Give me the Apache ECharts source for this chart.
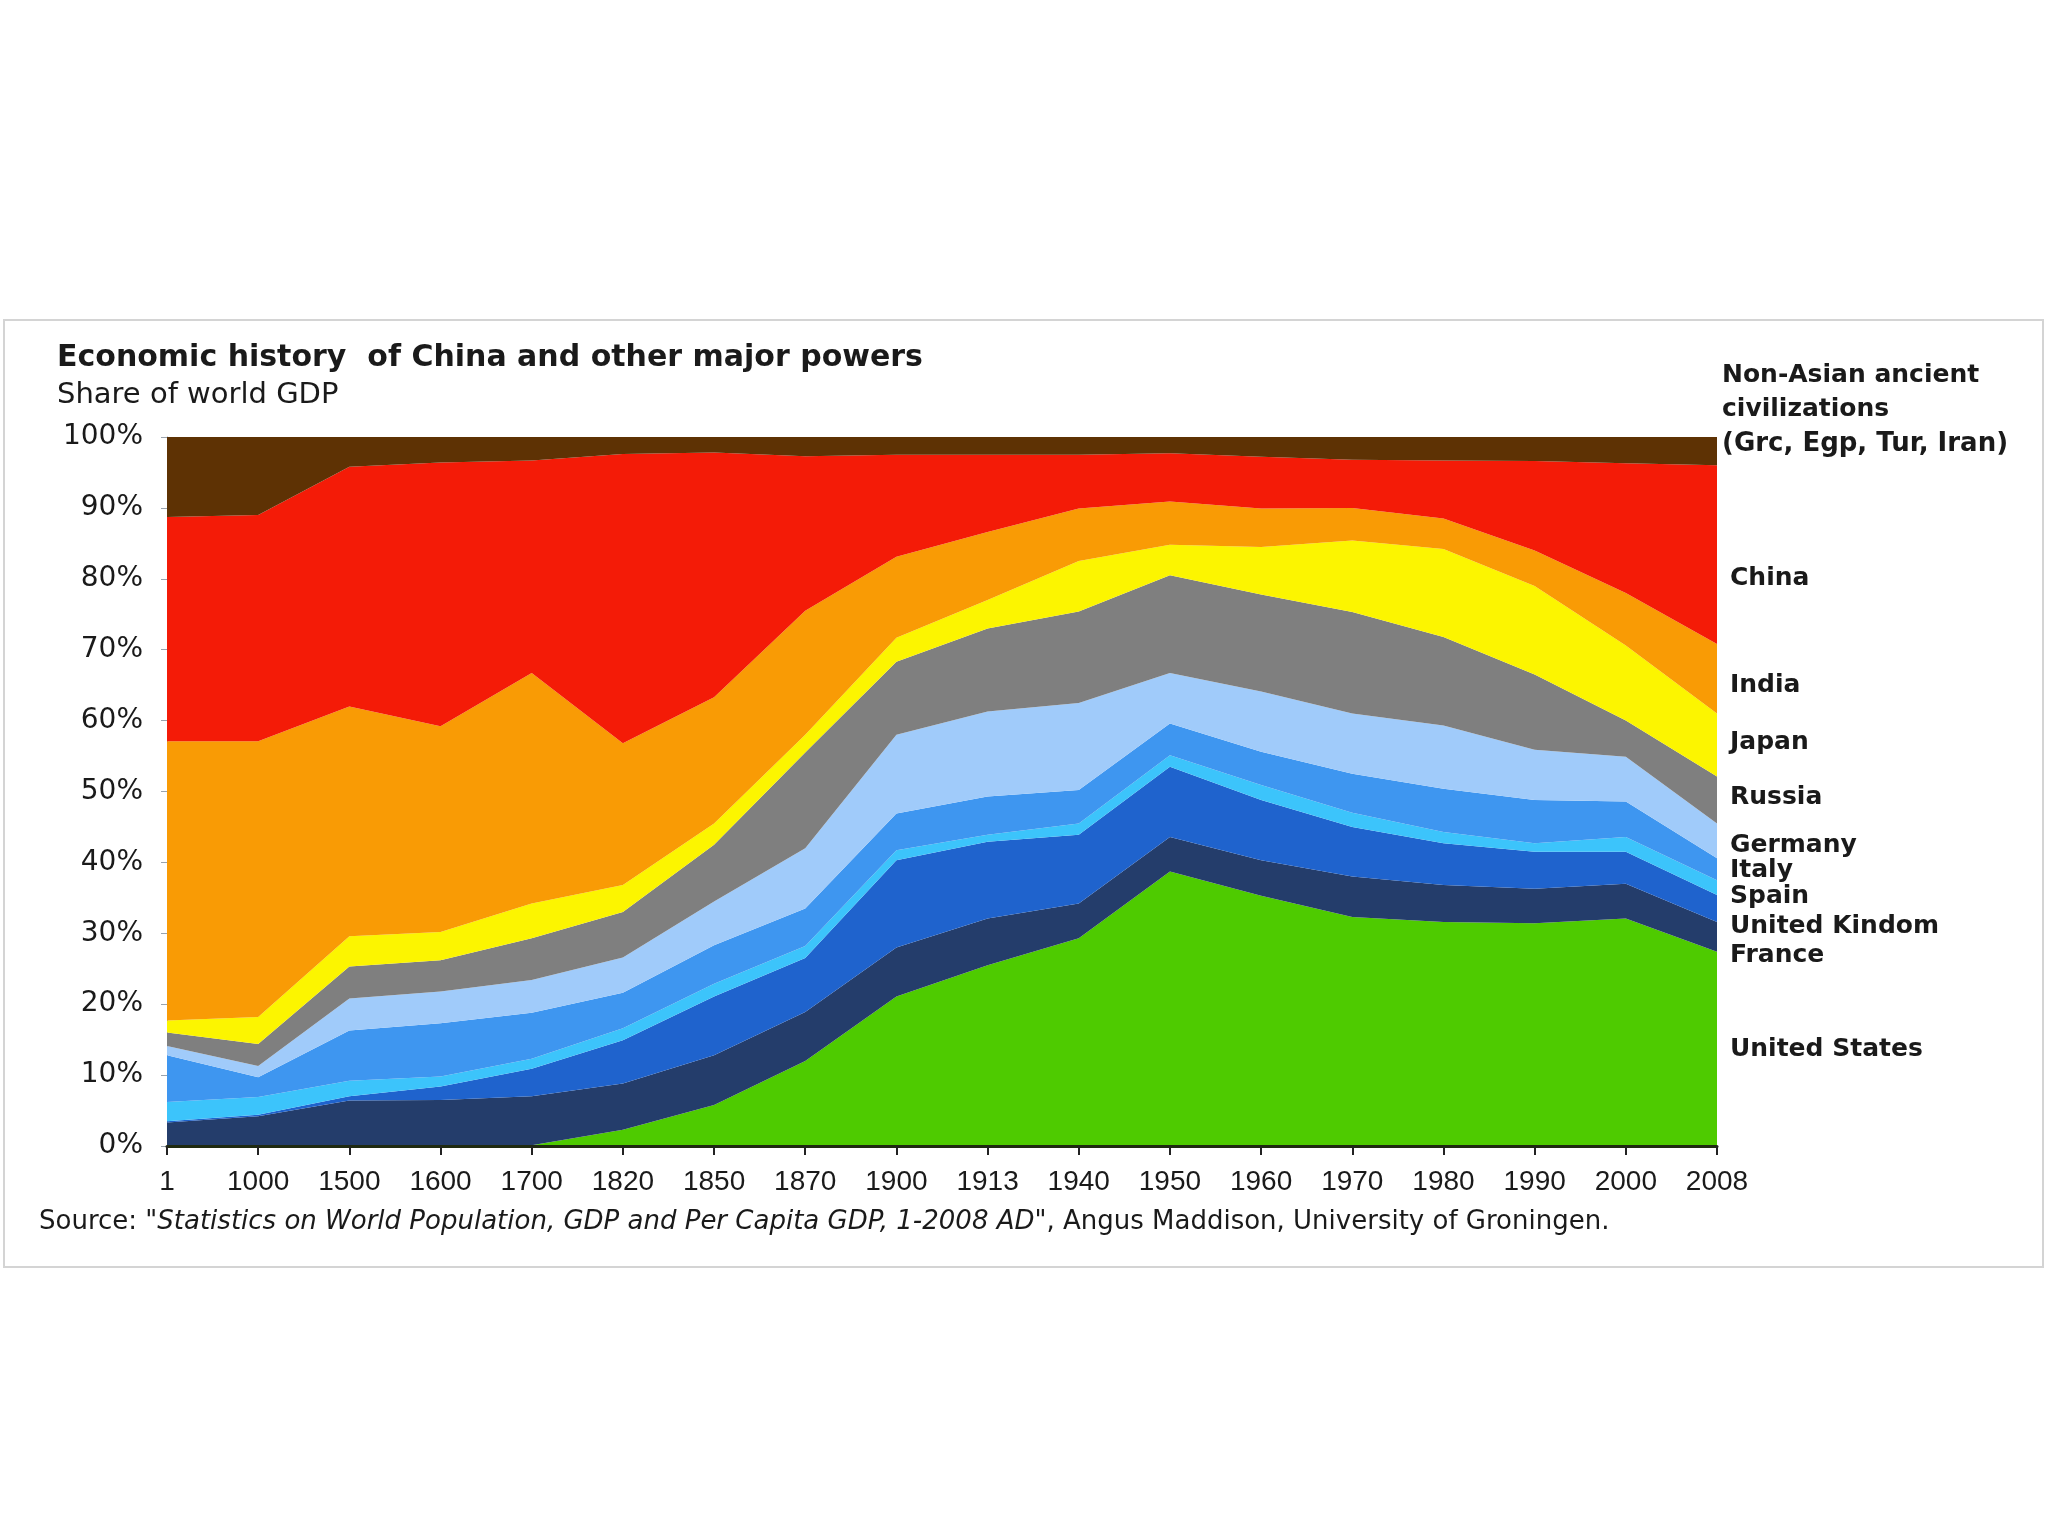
<!DOCTYPE html>
<html>
<head>
<meta charset="utf-8">
<style>
  html, body { margin: 0; padding: 0; background: #ffffff; }
  #chart { width: 2048px; height: 1536px; }
</style>
<script src="https://cdn.jsdelivr.net/npm/echarts@6/dist/echarts.min.js"></script>
</head>
<body>
<div id="chart"></div>
<script>
// ---- Data (share of world GDP, %) ----
const years = ['1','1000','1500','1600','1700','1820','1850','1870','1900','1913','1940','1950','1960','1970','1980','1990','2000','2008'];

const unitedStates = [0, 0, 0, 0, 0.1, 2.3, 5.8, 12.0, 21.1, 25.5, 29.3, 38.7, 35.3, 32.3, 31.6, 31.4, 32.1, 27.4];
const france       = [3.3, 4.2, 6.4, 6.5, 6.9, 6.5, 7.0, 6.9, 6.9, 6.6, 4.9, 4.9, 5.0, 5.7, 5.2, 4.9, 4.9, 4.2];
const unitedKingdom= [0.2, 0.2, 0.6, 1.9, 3.9, 6.1, 8.3, 7.6, 12.3, 10.8, 9.7, 9.9, 8.5, 7.0, 5.9, 5.2, 4.5, 3.8];
const spain        = [2.7, 2.5, 2.2, 1.4, 1.4, 1.7, 1.8, 1.7, 1.4, 1.0, 1.6, 1.6, 2.1, 2.0, 1.6, 1.2, 2.1, 2.1];
const italy        = [6.6, 2.8, 7.1, 7.5, 6.5, 5.0, 5.4, 5.3, 5.2, 5.4, 4.7, 4.5, 4.7, 5.5, 6.1, 6.1, 5.0, 3.1];
const germany      = [1.3, 1.6, 4.5, 4.5, 4.6, 5.0, 6.2, 8.5, 11.1, 12.0, 12.3, 7.1, 8.5, 8.5, 8.9, 7.1, 6.3, 4.9];
const russia       = [1.9, 3.1, 4.5, 4.4, 5.9, 6.4, 8.0, 13.5, 10.3, 11.7, 12.9, 13.8, 13.7, 14.3, 12.5, 10.6, 5.1, 6.6];
const japan        = [1.7, 3.8, 4.3, 4.0, 4.9, 3.8, 3.0, 2.5, 3.4, 4.0, 7.1, 4.3, 6.7, 10.1, 12.4, 12.5, 10.6, 8.9];
const india        = [39.4, 38.9, 32.4, 29.0, 32.5, 20.0, 17.8, 17.5, 11.4, 9.6, 7.4, 6.1, 5.4, 4.6, 4.3, 5.0, 7.4, 9.8];
const china        = [31.6, 31.9, 33.8, 37.2, 30.0, 40.8, 34.5, 21.8, 14.4, 10.9, 7.6, 6.8, 7.3, 6.8, 8.2, 12.6, 18.3, 25.2];
const ancient      = [11.3, 11.0, 4.2, 3.6, 3.3, 2.4, 2.2, 2.7, 2.5, 2.5, 2.5, 2.3, 2.8, 3.2, 3.3, 3.4, 3.7, 4.0];

const yTicks = [0, 10, 20, 30, 40, 50, 60, 70, 80, 90, 100];

const seriesNames = ['United States', 'France', 'United Kindom', 'Spain', 'Italy', 'Germany', 'Russia', 'Japan', 'India', 'China', 'Non-Asian ancient civilizations (Grc, Egp, Tur, Iran)'];
const seriesData  = [unitedStates, france, unitedKingdom, spain, italy, germany, russia, japan, india, china, ancient];
const seriesColors = ['#4ecb00', '#243d6b', '#1f63cd', '#3cc4fb', '#3e96f0', '#a0cbfa', '#7f7f7f', '#fcf500', '#f99b05', '#f41b07', '#5e3204'];

const titleText = 'Economic history  of China and other major powers';
const subtitleText = 'Share of world GDP';
const sourcePrefix = 'Source: ';
const sourceItalic = '"Statistics on World Population, GDP and Per Capita GDP, 1-2008 AD"';
const sourceSuffix = ', Angus Maddison, University of Groningen.';

// ---- Chart ----
const FONT = '"Liberation Sans", Arial, Helvetica, sans-serif';
const WIDE = '"DejaVu Sans", "Liberation Sans", Arial, sans-serif';
const chart = echarts.init(document.getElementById('chart'));

const series = seriesNames.map((name, i) => ({
  name: name,
  type: 'line',
  stack: 'total',
  data: seriesData[i],
  showSymbol: false,
  symbol: 'none',
  smooth: false,
  lineStyle: { width: 0, color: seriesColors[i] },
  itemStyle: { color: seriesColors[i] },
  areaStyle: { color: seriesColors[i], opacity: 1 },
  emphasis: { disabled: true },
  z: 2
}));

// right-side label block
const rightLabelX = 1730;
const labelStyle = { fontFamily: WIDE, fontSize: 25, fontWeight: 'bold', fill: '#1a1a1a' };
const rightLabels = [
  { text: 'Non-Asian ancient', y: 375, x: 1722 },
  { text: 'civilizations', y: 409, x: 1722 },
  { text: '(Grc, Egp, Tur, Iran)', y: 444, x: 1722, size: 26 },
  { text: seriesNames[9], y: 578 },
  { text: seriesNames[8], y: 685 },
  { text: seriesNames[7], y: 742 },
  { text: seriesNames[6], y: 797 },
  { text: seriesNames[5], y: 845 },
  { text: seriesNames[4], y: 870 },
  { text: seriesNames[3], y: 896 },
  { text: seriesNames[2], y: 926 },
  { text: seriesNames[1], y: 955 },
  { text: seriesNames[0], y: 1049 }
];

const graphics = [
  {
    type: 'rect',
    z: -10,
    shape: { x: 4, y: 320, width: 2039, height: 947 },
    style: { fill: 'none', stroke: '#d4d4d4', lineWidth: 2 }
  },
  {
    type: 'text',
    left: 57, top: 343,
    style: { text: titleText, fontFamily: WIDE, fontSize: 30, fontWeight: 'bold', fill: '#1a1a1a' }
  },
  {
    type: 'text',
    left: 57, top: 381,
    style: { text: subtitleText, fontFamily: WIDE, fontSize: 29, fill: '#1a1a1a' }
  },
  {
    type: 'text',
    left: 39, top: 1209,
    style: {
      text: '{a|' + sourcePrefix + '}{b|' + sourceItalic + '}{a|' + sourceSuffix + '}',
      rich: {
        a: { fontFamily: WIDE, fontSize: 26, fill: '#1a1a1a', color: '#1a1a1a' },
        b: { fontFamily: WIDE, fontSize: 26, fontStyle: 'italic', fill: '#1a1a1a', color: '#1a1a1a' }
      }
    }
  }
].concat(rightLabels.map(l => ({
  type: 'text',
  x: l.x || rightLabelX,
  y: l.y,
  style: Object.assign({ text: l.text, textVerticalAlign: 'middle', verticalAlign: 'middle' }, labelStyle, l.size ? { fontSize: l.size } : {})
})));

const option = {
  backgroundColor: '#ffffff',
  animation: false,
  textStyle: { fontFamily: FONT },
  grid: { left: 167, right: 331, top: 437, bottom: 390, containLabel: false },
  xAxis: {
    type: 'category',
    data: years,
    boundaryGap: false,
    axisLine: { show: true, lineStyle: { color: '#1f2a10', width: 3 } },
    axisTick: { show: true, inside: false, length: 9, alignWithLabel: true, lineStyle: { color: '#222', width: 2 } },
    axisLabel: { show: true, interval: 0, color: '#1a1a1a', fontSize: 28, fontFamily: FONT, margin: 22 },
    splitLine: { show: false },
    z: 5
  },
  yAxis: {
    type: 'value',
    min: yTicks[0],
    max: yTicks[yTicks.length - 1],
    interval: 10,
    axisLine: { show: true, lineStyle: { color: '#9aa3ad', width: 1 } },
    axisTick: { show: true, inside: false, length: 6, lineStyle: { color: '#9aa3ad' } },
    axisLabel: { show: true, color: '#1a1a1a', fontSize: 28, fontFamily: WIDE, margin: 24, formatter: '{value}%' },
    splitLine: { show: false }
  },
  series: series,
  graphic: graphics
};

chart.setOption(option);
</script>
</body>
</html>
